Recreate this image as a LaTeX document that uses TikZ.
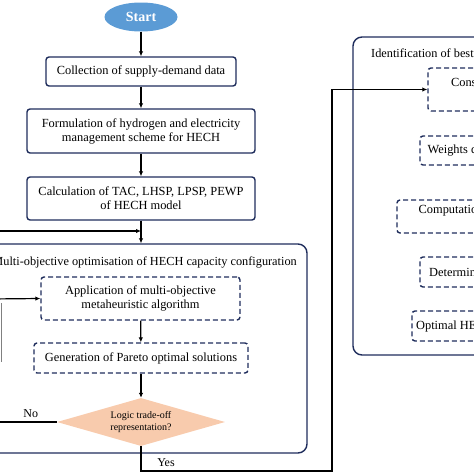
\documentclass[tikz,border=0pt]{standalone}
\usepackage{fontspec}
\setmainfont{Liberation Serif}
\usetikzlibrary{arrows.meta}
\usetikzlibrary{shapes.geometric}
\definecolor{navy}{HTML}{1F2D5C}
\definecolor{startblue}{HTML}{5B9BD5}
\definecolor{peach}{HTML}{F8CBAD}
\tikzset{
    >={Latex[length=5pt,width=4.5pt]},
    flow/.style={line width=1.2pt},
    stepbox/.style={draw=navy, line width=1.4pt, rounded corners=3pt, align=center,
        inner sep=1pt, font=\fontsize{12.4}{14}\selectfont},
    dashbox/.style={stepbox, dashed, dash pattern=on 5pt off 3pt},
    groupbox/.style={draw=navy, line width=1.4pt, rounded corners=9pt},
    grouptitle/.style={font=\fontsize{12.3}{14}\selectfont, inner sep=0pt}
}

\begin{document}
\begin{tikzpicture}[x=1pt,y=-1pt]
	\useasboundingbox (0,0) rectangle (474,474);
	\node[ellipse, fill=startblue, text=white, font=\fontsize{14}{16}\selectfont\bfseries,
	    minimum width=73pt, minimum height=29pt, inner sep=0pt] (start) at (141,17) {Start};
	\node[stepbox, minimum width=190pt, minimum height=29pt] (collect) at (141,71.5) {Collection of supply-demand data};
	\node[stepbox, minimum width=228pt, minimum height=44pt] (formul) at (141,131) {Formulation of hydrogen and electricity\\management scheme for HECH};
	\node[stepbox, minimum width=228pt, minimum height=43pt] (calc) at (141,198.5) {Calculation of TAC, LHSP, LPSP, PEWP\\of HECH model};

	\node[groupbox, minimum width=330pt, minimum height=209pt] (moo) at (142,348.5) {};
	\node[grouptitle, anchor=east] (mootitle) at (297,262) {Multi-objective optimisation of HECH capacity configuration};
	\node[dashbox, minimum width=199pt, minimum height=43pt] (apply) at (140.5,298.5) {Application of multi-objective\\metaheuristic algorithm};
	\node[dashbox, minimum width=214pt, minimum height=30pt] (pareto) at (141,358) {Generation of Pareto optimal solutions};
	\node[diamond, fill=peach, aspect=3.5, inner sep=0pt, minimum width=168pt, minimum height=48pt,
	    align=center, font=\fontsize{10}{12.5}\selectfont] (decide) at (141,422) {Logic trade-off\\representation?};

	\node[groupbox, minimum width=318pt, minimum height=318pt] (best) at (512,196) {};
	\node[grouptitle, anchor=west] (besttitle) at (371,54) {Identification of best compromise solution};
	\node[dashbox, minimum width=168pt, minimum height=43pt] (cons) at (512,89.5) {Construction of decision\\matrix};
	\node[dashbox, minimum width=184pt, minimum height=29pt] (weights) at (512,150.5) {Weights determination by entropy};
	\node[dashbox, minimum width=230pt, minimum height=33pt] (comp) at (512,216.5) {Computation of positive and negative\\ideal solutions};
	\node[dashbox, minimum width=184pt, minimum height=30pt] (determ) at (512,272) {Determination of closeness index};
	\node[dashbox, minimum width=200pt, minimum height=30pt] (optimal) at (512,326) {Optimal HECH capacity configuration};

	\coordinate (backin) at (-10,231);
	\coordinate (loopin) at (-10,299);
	\coordinate (nofree) at (-10,422);
	\coordinate (ybend) at (332,471);

	\draw[flow,->] (start) -- (collect);
	\draw[flow,->] (collect) -- (formul);
	\draw[flow,->] (formul) -- (calc);
	\draw[flow,->] (calc) -- (calc.south |- moo.north);
	\draw[flow,->] (backin) -- (calc.south |- backin);
	\draw[flow,->] (loopin) -- (apply.west);
	\draw[line width=1.6pt, gray] (1.5,303) -- (1.5,362);
	\draw[flow,->] (apply) -- (pareto);
	\draw[flow,->] (pareto) -- (decide);
	\draw[flow] (decide.west) -- (nofree) node[pos=0.39, above, font=\fontsize{12}{14}\selectfont] {No};
	\draw[flow,->] (decide.south) |- (ybend) |- (cons.west);
	\node[font=\fontsize{12}{14}\selectfont] (yes) at (166,463) {Yes};
\end{tikzpicture}
\end{document}
